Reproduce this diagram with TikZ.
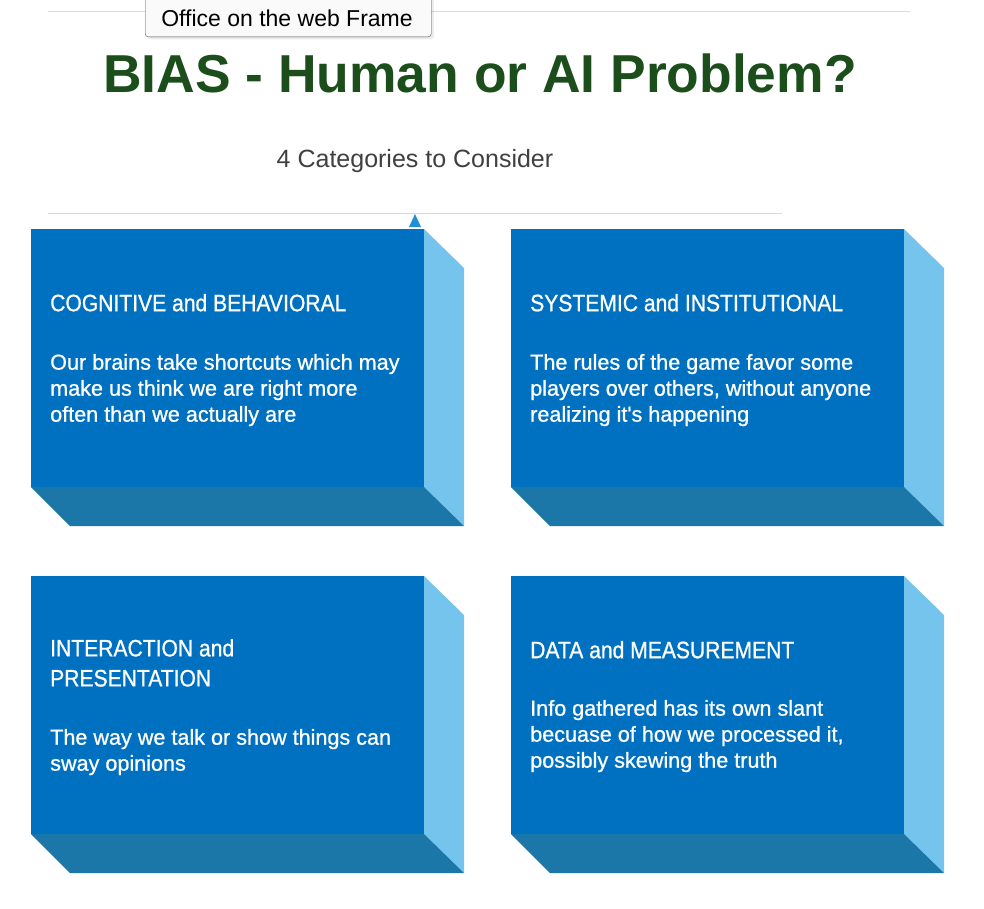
\documentclass[tikz,border=0pt]{standalone}
\usepackage{fontspec}
\setmainfont{Liberation Sans}
\newfontfamily\headfont[FakeStretch=0.89, FakeBold=0.9]{Liberation Sans}
\newfontfamily\bodyfont[FakeBold=0.9]{Liberation Sans}
\usetikzlibrary{shadows}

\definecolor{frontblue}{RGB}{0,112,192}
\definecolor{sideblue}{RGB}{116,196,238}
\definecolor{bottomblue}{RGB}{27,119,168}
\definecolor{titlegreen}{RGB}{28,78,28}
\definecolor{subgray}{RGB}{64,64,64}
\definecolor{rulegray}{RGB}{217,217,217}
\definecolor{tipblue}{RGB}{30,144,214}

\tikzset{
  cathead/.style={anchor=north west, yshift=21pt, inner sep=0pt, text=white, align=left,
    font=\headfont\fontsize{23.7}{30}\selectfont, execute at begin node=\strut},
  catbody/.style={anchor=north west, yshift=18.2pt, inner sep=0pt, text=white, align=left,
    font=\bodyfont\fontsize{21.6}{26}\selectfont, execute at begin node=\strut},
  rule/.style={rulegray, line width=1pt},
}

% one category block: front, right side and bottom face
\newcommand{\catblock}[2]{%
  \fill[frontblue] (#1,#2) rectangle (#1+393,#2+258);
  \fill[sideblue] (#1+393,#2) -- (#1+433,#2+39) -- (#1+433,#2+297) -- (#1+393,#2+258) -- cycle;
  \fill[bottomblue] (#1,#2+258) -- (#1+393,#2+258) -- (#1+433,#2+297) -- (#1+39,#2+297) -- cycle;
}

\begin{document}
\begin{tikzpicture}[x=1pt, y=-1pt]
    \useasboundingbox[fill=white] (0,0) rectangle (984,908);

    % Rules
    \coordinate (R1a) at (48,11);
    \coordinate (R1b) at (910,11);
    \coordinate (R2a) at (48,213);
    \coordinate (R2b) at (782,213);
    \draw[rule] (R1a) -- (R1b);
    \draw[rule] (R2a) -- (R2b);

    % Tooltip
    \node[draw=black!70, fill=black!2, rounded corners=3pt, drop shadow={opacity=0.15},
          minimum width=286pt, minimum height=44pt, anchor=south west] (tip) at (145,37) {};
    \node[font=\fontsize{23}{26}\selectfont, anchor=base] (tiptext) at (287,26) {Office on the web Frame};

    % Title
    \node[titlegreen, font=\bfseries\fontsize{53.4}{60}\selectfont, anchor=base] (title) at (480,92) {BIAS - Human or AI Problem?};
    \node[subgray, font=\fontsize{25}{30}\selectfont, anchor=base] (subtitle) at (415,167) {4 Categories to Consider};

    % Small marker
    \fill[tipblue] (409,227) -- (415,214) -- (421,227) -- cycle;

    % Blocks
    \catblock{31}{229}
    \catblock{511}{229}
    \catblock{31}{576}
    \catblock{511}{576}
    \draw[green!60!black, line width=0.8pt] (31,229) -- (424,229);

    % Block texts
    \node[cathead] (cogh) at (50,311) {COGNITIVE and BEHAVIORAL};
    \node[catbody] (cogb) at (50,372) {Our brains take shortcuts which may\\make us think we are right more\\often than we actually are};

    \node[cathead] (sysh) at (530,311) {SYSTEMIC and INSTITUTIONAL};
    \node[catbody] (sysb) at (530,372) {The rules of the game favor some\\players over others, without anyone\\realizing it's happening};

    \node[cathead] (inth) at (50,660) {INTERACTION and\\PRESENTATION};
    \node[catbody] (intb) at (50,747) {The way we talk or show things can\\sway opinions};

    \node[cathead] (dath) at (530,658) {DATA and MEASUREMENT};
    \node[catbody] (datb) at (530,718) {Info gathered has its own slant\\becuase of how we processed it,\\possibly skewing the truth};

\end{tikzpicture}
\end{document}
